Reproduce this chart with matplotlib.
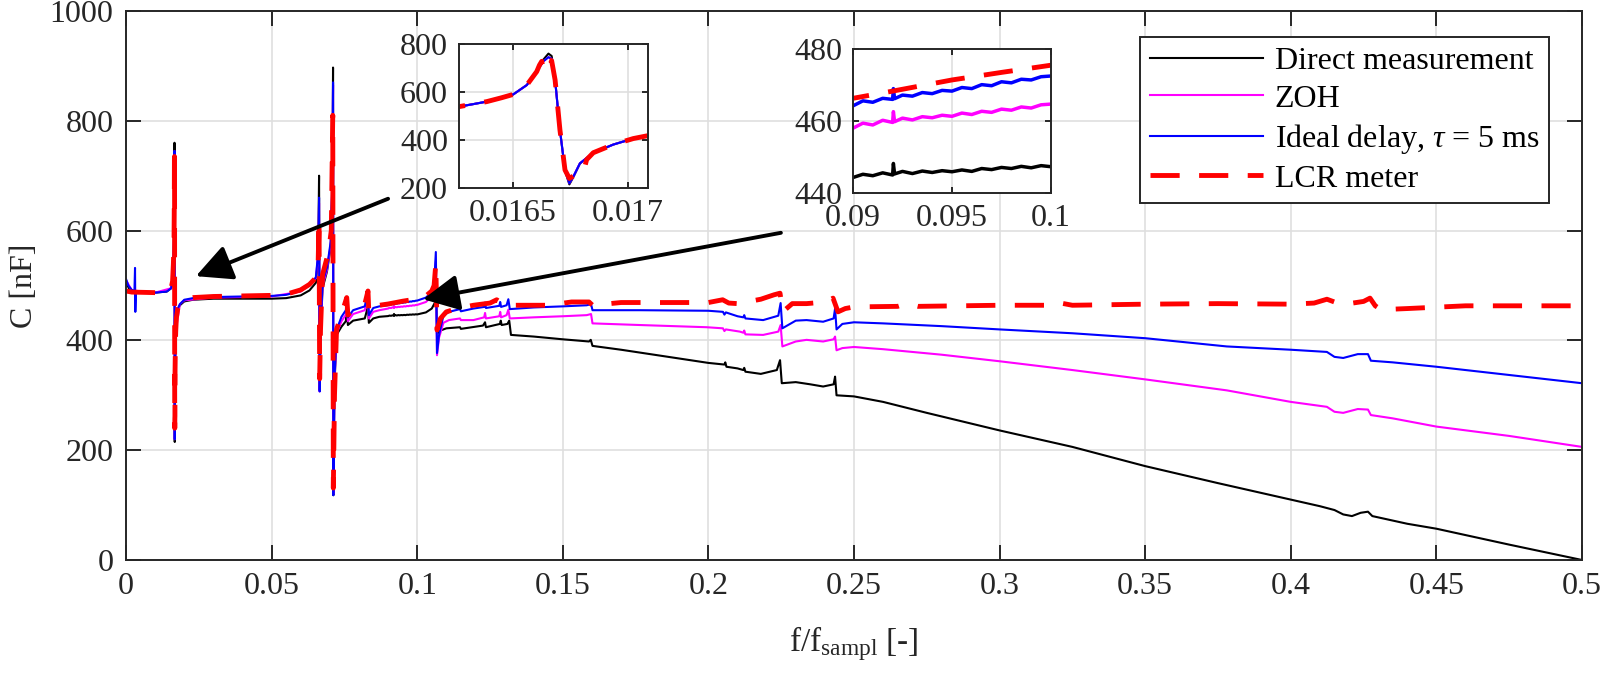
import matplotlib
matplotlib.use("Agg")
import matplotlib.pyplot as plt

plt.rcParams['font.family'] = ['Liberation Serif', 'DejaVu Serif']
plt.rcParams['mathtext.fontset'] = 'custom'
plt.rcParams['mathtext.rm'] = 'Liberation Serif'
plt.rcParams['mathtext.it'] = 'Liberation Serif:italic'

# ---------------- data ----------------
f_direct = [0.0, 0.001, 0.002, 0.006, 0.010, 0.014, 0.0155, 0.016, 0.016265, 0.016330, 0.016386,
            0.016450, 0.016501, 0.016560, 0.016603, 0.016632, 0.016654, 0.016668, 0.016683, 0.016704,
            0.016726, 0.016745, 0.016762, 0.016791, 0.016849, 0.016936, 0.017023, 0.017081, 0.0173,
            0.0178, 0.0185, 0.020, 0.023, 0.030, 0.040, 0.050,
            0.055, 0.060, 0.063, 0.0652, 0.0660, 0.0663, 0.0665, 0.0668, 0.0675, 0.0690, 0.0703, 0.0709,
            0.0711, 0.0712, 0.0716, 0.0723, 0.0740, 0.0755, 0.0758, 0.0762, 0.0780, 0.0820, 0.0831,
            0.0834, 0.0849, 0.0870,
            0.0900, 0.0905, 0.0910, 0.0915, 0.0920, 0.09204, 0.0921, 0.0925, 0.0930, 0.0935, 0.0940,
            0.0945, 0.0950, 0.0955, 0.0960, 0.0965, 0.0970, 0.0975, 0.0980, 0.0985, 0.0990, 0.0995, 0.1000,
            0.1030, 0.1050, 0.1060, 0.1066, 0.1068, 0.1080, 0.1100, 0.1147, 0.1150, 0.1226, 0.1233,
            0.1236, 0.1284, 0.1287, 0.1290, 0.1310, 0.1316, 0.1322, 0.140, 0.150, 0.1590, 0.1596, 0.1602,
            0.170, 0.180, 0.190, 0.200, 0.2055, 0.2058, 0.2062, 0.2100, 0.2120, 0.2123, 0.2127, 0.2180,
            0.2235, 0.2246, 0.2252, 0.2300, 0.2350, 0.2394, 0.2430, 0.2435, 0.2440, 0.250, 0.260, 0.275,
            0.300, 0.325, 0.350, 0.375, 0.400, 0.410, 0.415, 0.418, 0.421, 0.424, 0.4265, 0.428, 0.440,
            0.450, 0.475, 0.500]
c_direct = [505, 495, 490, 487, 487, 489, 495, 508, 539, 550, 560,
            576, 590, 629, 685, 735, 760, 750, 650, 442,
            272, 215, 245, 302, 346, 381, 406, 416, 438,
            456, 464, 471, 474, 476, 476, 476,
            477, 482, 491, 505, 550, 700, 310, 410, 495, 525, 570, 690,
            897, 118, 320, 410, 425, 435, 460, 428, 436, 440, 462,
            432, 440, 443,
            444.3, 445.2, 444.8, 445.6, 445.0, 448.2, 445.3, 446.0, 445.4, 446.1, 445.7,
            446.2, 445.9, 446.4, 446.0, 446.8, 446.5, 447.1, 446.8, 447.4, 447.0, 447.6, 447.3,
            451, 458, 468, 470, 412, 418, 422, 424, 421, 427, 433,
            424, 430, 436, 428, 430, 436, 410, 407, 402, 398, 401, 390,
            383, 375, 367, 359, 356, 360, 352, 349, 346, 350, 343, 339,
            346, 364, 322, 324, 320, 316, 320, 334, 300, 298, 288, 268,
            236, 206, 171, 140, 110, 98, 91, 83, 80, 86, 88, 80, 66,
            57, 28, 0]

f_zoh = [0.0, 0.002, 0.010, 0.0155, 0.016, 0.016265, 0.016330, 0.016386, 0.016450, 0.016501, 0.016560,
         0.016603, 0.016632, 0.016654, 0.016668, 0.016683, 0.016704, 0.016726, 0.016745, 0.016762,
         0.016791, 0.016849, 0.016936, 0.017023, 0.017081, 0.0185, 0.020, 0.030, 0.050, 0.060, 0.0652,
         0.0660, 0.0663,
         0.0665, 0.0668, 0.0675, 0.0690, 0.0703, 0.0709, 0.0711, 0.0712, 0.0716, 0.0723, 0.0740,
         0.0755, 0.0758, 0.0762, 0.0780, 0.0820, 0.0831, 0.0834, 0.0849, 0.0870,
         0.0900, 0.0905, 0.0910, 0.0915, 0.0920, 0.09204, 0.0921, 0.0925, 0.0930, 0.0935, 0.0940,
         0.0945, 0.0950, 0.0955, 0.0960, 0.0965, 0.0970, 0.0975, 0.0980, 0.0985, 0.0990, 0.0995, 0.1000,
         0.1030, 0.1050, 0.1058, 0.1064, 0.1068, 0.1075, 0.1090, 0.1109, 0.1147, 0.1150, 0.1193,
         0.1230, 0.1233, 0.1236, 0.1282, 0.1285, 0.1288, 0.1307, 0.1313, 0.1318, 0.140, 0.150, 0.1582,
         0.1597, 0.1602, 0.1765, 0.1994, 0.2050, 0.2055, 0.2060, 0.2108, 0.2120, 0.2123, 0.2127,
         0.2188, 0.2240, 0.2248, 0.2254, 0.2300, 0.2337, 0.2394, 0.2430, 0.2435, 0.2440, 0.2460,
         0.250, 0.260, 0.280, 0.300, 0.325, 0.350, 0.378, 0.400, 0.4124, 0.4150, 0.4180, 0.4230,
         0.4265, 0.4275, 0.435, 0.450, 0.475, 0.500]
c_zoh = [510, 491, 487, 495, 508, 539, 550, 560, 576, 590, 629,
         685, 728, 745, 738, 650, 442, 275, 220, 247,
         303, 347, 381, 406, 417, 466, 473, 478, 480, 489, 513,
         555, 650,
         307, 415, 500, 528, 575, 695, 865, 120, 325, 412, 435,
         447, 470, 435, 448, 455, 480, 440, 452, 455,
         458.0, 459.4, 458.9, 460.2, 459.6, 462.6, 459.8, 460.8, 460.3, 461.2, 460.9,
         461.6, 461.3, 462.2, 461.8, 462.7, 462.4, 463.3, 463.0, 463.9, 463.6, 464.5, 464.7,
         470, 480, 490, 545, 373, 405, 432, 437, 440, 437, 437,
         442, 450, 440, 444, 452, 442, 446, 456, 440, 442, 444, 446,
         448, 431, 428, 424, 422, 417, 420, 416, 414, 418, 411,
         410, 416, 428, 389, 398, 401, 398, 402, 407, 382, 386,
         388, 384, 374, 362, 346, 329, 309, 288, 279, 270, 268, 275,
         274, 264, 258, 243, 226, 206]

f_delay = [0.0, 0.0008, 0.002, 0.0029, 0.0031, 0.0032, 0.0034, 0.006, 0.010, 0.014, 0.0155, 0.016,
           0.016265, 0.016330, 0.016386, 0.016450, 0.016501, 0.016560, 0.016603, 0.016632, 0.016654,
           0.016668, 0.016683, 0.016704, 0.016726, 0.016745, 0.016762, 0.016791, 0.016849, 0.016936,
           0.017023, 0.017081, 0.0173, 0.0178,
           0.0185, 0.020, 0.023, 0.030, 0.040, 0.050, 0.055, 0.060, 0.063, 0.0652, 0.0660, 0.0663,
           0.0665, 0.0668, 0.0675, 0.0690, 0.0703, 0.0709, 0.0711, 0.0712, 0.0716, 0.0723, 0.0740,
           0.0755, 0.0758, 0.0762, 0.0780, 0.0820, 0.0831, 0.0834, 0.0849, 0.0870,
           0.0900, 0.0905, 0.0910, 0.0915, 0.0920, 0.09204, 0.0921, 0.0925, 0.0930, 0.0935, 0.0940,
           0.0945, 0.0950, 0.0955, 0.0960, 0.0965, 0.0970, 0.0975, 0.0980, 0.0985, 0.0990, 0.0995, 0.1000,
           0.1030, 0.1050, 0.1058, 0.1064, 0.1068, 0.1075, 0.1090, 0.1109, 0.1147, 0.1150, 0.1193,
           0.1230, 0.1233, 0.1236, 0.1282, 0.1285, 0.1288, 0.1307, 0.1313, 0.1318, 0.140, 0.150,
           0.1582, 0.1597, 0.1602, 0.1765, 0.200, 0.2050, 0.2055, 0.2060, 0.2100, 0.2120, 0.2123,
           0.2127, 0.2188, 0.2240, 0.2248, 0.2254, 0.2300, 0.2337, 0.2394, 0.2430, 0.2435, 0.2440,
           0.2460, 0.250, 0.260, 0.280, 0.300, 0.325, 0.350, 0.378, 0.400, 0.4124, 0.4150, 0.4180,
           0.4230, 0.4265, 0.4275, 0.435, 0.450, 0.475, 0.500]
c_delay = [512, 500, 492, 490, 532, 452, 488, 487, 487, 489, 495, 508,
           539, 550, 560, 576, 590, 629, 685, 728, 745,
           738, 650, 442, 275, 220, 247, 303, 347, 381,
           406, 417, 440, 458,
           466, 474, 477, 479, 480, 481, 483, 490, 500, 515, 560, 660,
           307, 420, 505, 532, 580, 700, 870, 118, 330, 419, 443,
           455, 477, 442, 455, 462, 489, 446, 459, 462,
           464.2, 465.6, 465.2, 466.3, 466.0, 469.0, 466.2, 467.2, 466.9, 467.9, 467.6,
           468.5, 468.3, 469.3, 469.0, 470.1, 469.8, 470.9, 470.6, 471.6, 471.4, 472.3, 472.5,
           478, 488, 500, 561, 377, 410, 445, 452, 457, 453, 458,
           461, 469, 459, 463, 470, 461, 464, 475, 457, 460, 462,
           464, 466, 455, 455, 454, 452, 447, 451, 444, 442, 446,
           440, 437, 445, 468, 422, 436, 437, 434, 440, 458, 420,
           430, 433, 431, 426, 420, 413, 404, 389, 383, 379, 370, 368,
           375, 375, 363, 360, 352, 337, 322]

f_lcr = [0.0, 0.002, 0.010, 0.014, 0.0155, 0.016, 0.016265, 0.016330, 0.016386, 0.016450, 0.016501,
         0.016560, 0.016603, 0.016615, 0.016625, 0.016632, 0.016640, 0.016654, 0.016668, 0.016683,
         0.016704, 0.016726, 0.016745, 0.016777, 0.016805, 0.016820, 0.016849,
         0.016936, 0.017023, 0.017081, 0.0173, 0.0178, 0.0185, 0.020, 0.023, 0.030, 0.040, 0.050, 0.055,
         0.060, 0.063, 0.0652, 0.0660, 0.0663, 0.0665, 0.0668, 0.0675, 0.0685, 0.0695, 0.0705, 0.0710,
         0.0712, 0.0716, 0.0723, 0.0740, 0.0758, 0.0762, 0.0780, 0.0820, 0.0831, 0.0834, 0.0849,
         0.0870, 0.0900, 0.0920, 0.0950, 0.0975, 0.1000, 0.1030, 0.1050, 0.1058, 0.1064, 0.1068,
         0.1080, 0.1100, 0.1137, 0.1193, 0.1250, 0.1273, 0.1290, 0.1307, 0.1330, 0.1450, 0.1530,
         0.1590, 0.1602, 0.170, 0.200, 0.2049, 0.2070, 0.2100, 0.2180, 0.2225, 0.2246, 0.2255,
         0.2288, 0.2337, 0.2405, 0.2428, 0.2445, 0.2470, 0.250, 0.265, 0.268, 0.272, 0.300, 0.318,
         0.321, 0.325, 0.350, 0.375, 0.400, 0.408, 0.4124, 0.416, 0.420, 0.425, 0.4272, 0.429,
         0.431, 0.440, 0.460, 0.500]
c_lcr = [490, 488, 487, 489, 495, 508, 539, 550, 560, 576, 590,
         629, 685, 712, 728, 690, 720, 735, 730, 650,
         442, 275, 240, 258, 262, 318, 347,
         381, 406, 417, 441, 459, 467, 475, 478, 480, 481, 482, 484,
         492, 502, 514, 545, 620, 330, 420, 520, 540, 560, 600, 810,
         131, 300, 420, 447, 478, 446, 458, 466, 490, 450, 462,
         464, 466.3, 468.3, 471.4, 473.5, 475.5, 481, 490, 500, 540, 419,
         440, 452, 458, 464, 468, 474, 468, 470, 464, 464, 470,
         470, 464, 469, 469, 474, 468, 467, 475, 483, 486, 452,
         467, 467, 470, 477, 452, 458, 461, 462, 467, 462, 464, 464,
         468, 464, 466, 467, 466, 468, 475, 468, 467, 471, 477, 463,
         456, 458, 463, 463]

series_labels = ['Direct measurement', 'ZOH', r'Ideal delay, $\tau$ = 5 ms', 'LCR meter']
x_ticks = [0, 0.05, 0.1, 0.15, 0.2, 0.25, 0.3, 0.35, 0.4, 0.45, 0.5]
x_ticklabels = ['0', '0.05', '0.1', '0.15', '0.2', '0.25', '0.3', '0.35', '0.4', '0.45', '0.5']
y_ticks = [0, 200, 400, 600, 800, 1000]
in1_xticks = [0.0165, 0.017]
in1_xticklabels = ['0.0165', '0.017']
in1_yticks = [200, 400, 600, 800]
in2_xticks = [0.09, 0.095, 0.1]
in2_xticklabels = ['0.09', '0.095', '0.1']
in2_yticks = [440, 460, 480]

# ---------------- styling ----------------
AX_COL = '#262626'
GRID_COL = '#dfdfdf'
FS = 23
series = [
    (f_direct, c_direct, dict(color='black', lw=1.5)),
    (f_zoh, c_zoh, dict(color='#ff00ff', lw=1.5)),
    (f_delay, c_delay, dict(color='#0000ff', lw=1.5)),
    (f_lcr, c_lcr, dict(color='#ff0000', lw=3.5, dashes=(6, 4))),
]


def style_axes(ax, ticklen, fs):
    for s in ax.spines.values():
        s.set_color(AX_COL)
        s.set_linewidth(1.4)
    ax.tick_params(direction='in', which='both', top=True, right=True, length=ticklen,
                   width=1.4, color=AX_COL, labelcolor=AX_COL, labelsize=fs)
    ax.grid(True, color=GRID_COL, lw=1.2)
    ax.set_axisbelow(True)


fig = plt.figure(figsize=(16, 6.77), dpi=100)
ax = fig.add_axes([126 / 1600, 1 - 560 / 677, 1456 / 1600, 549 / 677])
for (fx, cy, kw), lab in zip(series, series_labels):
    ax.plot(fx, cy, label=lab, **kw)
ax.set_xlim(0, 0.5)
ax.set_ylim(0, 1000)
ax.set_xticks(x_ticks)
ax.set_xticklabels(x_ticklabels)
ax.set_yticks(y_ticks)
style_axes(ax, 10.5, FS)
ax.tick_params(axis='y', pad=9)
ax.tick_params(axis='x', pad=9)
ax.set_xlabel(r'f/f$_{\mathregular{sampl}}$ [-]', fontsize=FS + 1, color=AX_COL, labelpad=16)
ax.set_ylabel('C [nF]', fontsize=FS, color=AX_COL, labelpad=8)

leg = ax.legend(loc='upper right', bbox_to_anchor=(1423 / 1456, 523 / 549), borderaxespad=0,
                fontsize=FS, handlelength=3.55, handletextpad=0.35, borderpad=0.3,
                labelspacing=0.26, fancybox=False, framealpha=1, edgecolor=AX_COL)
leg.get_frame().set_linewidth(1.4)
for t in leg.get_texts():
    t.set_color('black')

# arrows
arrow_kw = dict(arrowstyle='-|>,head_length=1.1,head_width=0.55', mutation_scale=20, lw=2.8,
                color='black', shrinkA=0, shrinkB=0)
ax.annotate('', xy=(0.0240, 517), xytext=(0.0900, 658), arrowprops=arrow_kw)
ax.annotate('', xy=(0.1020, 475), xytext=(0.2249, 596), arrowprops=arrow_kw)

# inset 1
ax1 = fig.add_axes([459 / 1600, 1 - 188 / 677, 189 / 1600, 144 / 677])
for fx, cy, kw in series:
    ax1.plot(fx, cy, **kw)
ax1.set_xlim(0.016265, 0.017087)
ax1.set_ylim(200, 800)
ax1.set_xticks(in1_xticks)
ax1.set_xticklabels(in1_xticklabels)
ax1.set_yticks(in1_yticks)
style_axes(ax1, 4, FS)
ax1.tick_params(axis='both', pad=8)

# inset 2
ax2 = fig.add_axes([853 / 1600, 1 - 193 / 677, 198 / 1600, 144 / 677])
for fx, cy, kw in series:
    kw2 = dict(kw)
    if 'dashes' not in kw2:
        kw2['lw'] = 2.5
    ax2.plot(fx, cy, **kw2)
ax2.set_xlim(0.09, 0.1)
ax2.set_ylim(440, 480)
ax2.set_xticks(in2_xticks)
ax2.set_xticklabels(in2_xticklabels)
ax2.set_yticks(in2_yticks)
style_axes(ax2, 4, FS)
ax2.tick_params(axis='both', pad=8)

fig.savefig('out.png', dpi=100)
